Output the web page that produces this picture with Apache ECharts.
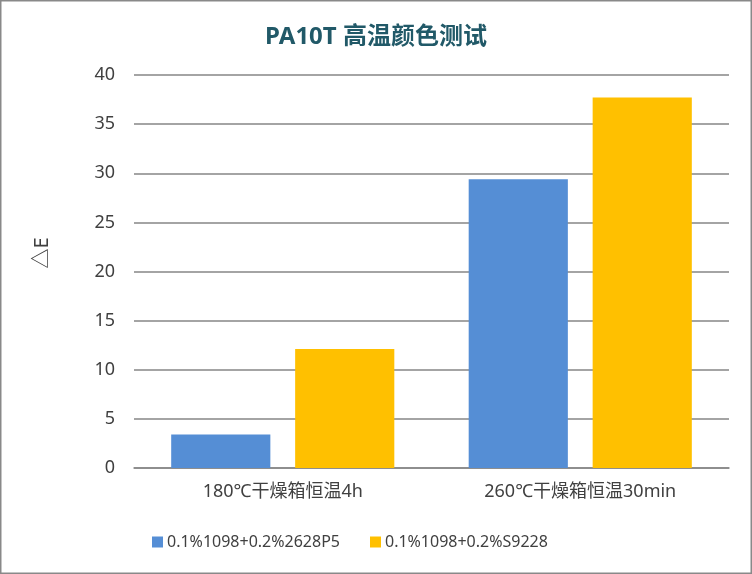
<!DOCTYPE html>
<html>
<head>
<meta charset="utf-8">
<script src="https://cdn.jsdelivr.net/npm/echarts@6/dist/echarts.min.js"></script>
<style>html,body{margin:0;padding:0;background:#fff}#c{width:752px;height:574px}</style>
</head>
<body>
<div id="c"></div>
<script>
const categories = ['180℃干燥箱恒温4h', '260℃干燥箱恒温30min'];
const seriesNames = ['0.1%1098+0.2%2628P5', '0.1%1098+0.2%S9228'];
const valuesA = [3.4, 29.4];
const valuesB = [12.1, 37.7];
const yTicks = { min: 0, max: 40, interval: 5 };

const FONT = '"Noto Sans", "Noto Sans CJK SC", sans-serif';
const chart = echarts.init(document.getElementById('c'), null, { renderer: 'canvas' });
chart.setOption({
  backgroundColor: '#ffffff',
  animation: false,
  title: {
    text: 'PA10T 高温颜色测试',
    left: 'center',
    top: 20,
    textStyle: { fontFamily: FONT, fontSize: 24, fontWeight: 'bold', color: '#215968' }
  },
  legend: {
    left: 147,
    top: 529,
    itemWidth: 11,
    itemHeight: 11,
    itemGap: 30,
    icon: 'rect',
    textStyle: { fontFamily: FONT, fontSize: 16, color: '#404040', padding: [0, 0, 0, -1] },
    data: seriesNames
  },
  grid: { left: 134, right: 23, top: 75, bottom: 106, containLabel: false },
  xAxis: {
    type: 'category',
    data: categories,
    axisLine: { lineStyle: { color: '#868686', width: 1.5 } },
    axisTick: { show: false },
    axisLabel: { fontFamily: FONT, fontSize: 18, color: '#404040', margin: 15 }
  },
  yAxis: {
    type: 'value',
    min: yTicks.min,
    max: yTicks.max,
    interval: yTicks.interval,
    axisLine: { show: false },
    axisTick: { show: false },
    splitLine: { lineStyle: { color: '#868686', width: 1.5 } },
    axisLabel: { fontFamily: FONT, fontSize: 18, color: '#404040', margin: 19 }
  },
  graphic: [
    {
      type: 'text',
      x: 42, y: 253,
      rotation: Math.PI / 2,
      style: { text: '△E', fontFamily: FONT, fontSize: 20, fill: '#404040', textAlign: 'center', textVerticalAlign: 'middle' }
    },
    {
      type: 'rect',
      shape: { x: 0.75, y: 0.75, width: 750.5, height: 572.5 },
      style: { fill: 'none', stroke: '#898989', lineWidth: 1.5 },
      silent: true
    }
  ],
  series: [
    { name: seriesNames[0], type: 'bar', data: valuesA, itemStyle: { color: '#558ED5' }, barGap: '25%', barCategoryGap: '25%' },
    { name: seriesNames[1], type: 'bar', data: valuesB, itemStyle: { color: '#FFC000' }, barGap: '25%', barCategoryGap: '25%' }
  ]
});
</script>
</body>
</html>
